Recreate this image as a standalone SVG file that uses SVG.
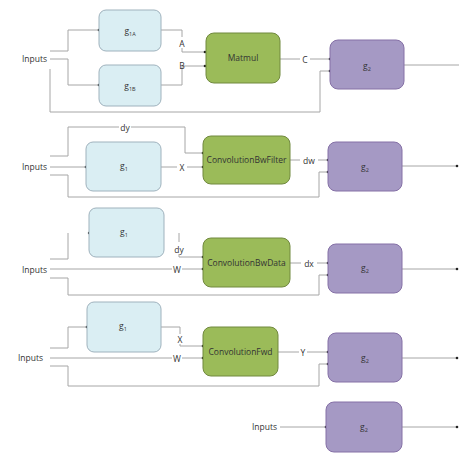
<svg xmlns="http://www.w3.org/2000/svg" width="474" height="460" viewBox="0 0 474 460">
<defs>
<marker id="dot" viewBox="0 0 4 4" refX="2" refY="2" markerWidth="4" markerHeight="4" markerUnits="userSpaceOnUse"><circle cx="2" cy="2" r="1.3" fill="#222"/></marker>
<style>
.w{fill:none;stroke:#a6a6a6;stroke-width:1}
.a{marker-end:url(#dot)}
.t{font-family:"Open Sans","Liberation Sans",sans-serif;font-size:8.5px;fill:#333}
.c{text-anchor:middle}
.lbl{font-family:"Open Sans","Liberation Sans",sans-serif;font-size:8.5px;fill:#333;text-anchor:middle;dominant-baseline:central}
.blue{fill:#daeef3;stroke:#9fb2bd;stroke-width:1}
.green{fill:#9bbb59;stroke:#71893f;stroke-width:1}
.purple{fill:#a599c4;stroke:#8570a6;stroke-width:1}
.bg{fill:#fff}
.sub{font-size:5.5px}
</style>
</defs>
<rect width="474" height="460" fill="#fff"/>
<g id="connectors">
<!-- section 1 -->
<path class="w a" d="M50,51 H68 V30 H99"/>
<path class="w a" d="M50,59 H68 V85 H99"/>
<path class="w a" d="M50,69 V112 H320 V71 H330"/>
<path class="w a" d="M161,30 H182 V37 M182,48 V52 H205"/>
<path class="w a" d="M161,85 H182 V66 H205"/>
<path class="w a" d="M280,59 H300 M310,59 H330"/>
<path class="w" d="M404,65 H459"/>
<!-- section 2 -->
<path class="w a" d="M50,156 H68 V127 H119 M131,127 H185 V153 H203"/>
<path class="w a" d="M50,167 H86"/>
<path class="w a" d="M161,167 H177 M187,167 H203"/>
<path class="w a" d="M50,175 H68 V197 H319 V172 H328"/>
<path class="w a" d="M290,160 H300 M318,160 H328"/>
<path class="w a" d="M402,166 H457"/>
<!-- section 3 -->
<path class="w" d="M50,259 H68 V233"/>
<circle cx="89" cy="233" r="1.2" fill="#222"/>
<path class="w" d="M179,233 V242"/>
<path class="w a" d="M179,254 V257 H203"/>
<path class="w a" d="M50,269 H172 M182,269 H203"/>
<path class="w a" d="M50,278 H68 V295 H319 V275 H328"/>
<path class="w a" d="M290,263 H301 M317,263 H328"/>
<path class="w a" d="M402,269 H457"/>
<!-- section 4 -->
<path class="w a" d="M50,348 H68 V327 H87"/>
<path class="w a" d="M161,327 H180 V334 M180,344 V346 H203"/>
<path class="w a" d="M50,358 H172 M182,358 H203"/>
<path class="w a" d="M50,366 H68 V386 H319 V364 H328"/>
<path class="w a" d="M278,352 H299 M307,352 H328"/>
<path class="w a" d="M402,358 H457"/>
<!-- section 5 -->
<path class="w a" d="M280,427 H326"/>
<path class="w a" d="M402,427 H457"/>
</g>
<g id="labels">
<text class="lbl" x="182" y="43">A</text>
<text class="lbl" x="182" y="65">B</text>
<text class="lbl" x="305" y="59">C</text>
<text class="lbl" x="125" y="127">dy</text>
<text class="lbl" x="182" y="167">X</text>
<text class="lbl" x="309" y="160">dw</text>
<text class="lbl" x="179" y="249">dy</text>
<text class="lbl" x="177" y="269">W</text>
<text class="lbl" x="309" y="263">dx</text>
<text class="lbl" x="180" y="339">X</text>
<text class="lbl" x="177" y="358">W</text>
<text class="lbl" x="303" y="352">Y</text>
</g>
<g id="inputs1"><text class="t" x="22" y="62">Inputs</text></g>
<g id="inputs2"><text class="t" x="22" y="170">Inputs</text></g>
<g id="inputs3"><text class="t" x="22" y="273">Inputs</text></g>
<g id="inputs4"><text class="t" x="18" y="361">Inputs</text></g>
<g id="inputs5"><text class="t" x="252" y="430">Inputs</text></g>
<g id="g1A"><rect class="blue" x="99" y="10" width="62" height="41" rx="7"/><text class="t c" x="130" y="34">g<tspan class="sub" dy="1.5">1A</tspan></text></g>
<g id="g1B"><rect class="blue" x="99" y="65" width="62" height="41" rx="7"/><text class="t c" x="130" y="89">g<tspan class="sub" dy="1.5">1B</tspan></text></g>
<g id="matmul"><rect class="green" x="206" y="33" width="74" height="50" rx="8"/><text class="t c" x="243" y="61">Matmul</text></g>
<g id="g2a"><rect class="purple" x="330" y="40" width="74" height="49" rx="8"/><text class="t c" x="367" y="69">g<tspan class="sub" dy="1.5">2</tspan></text></g>
<g id="g1_2"><rect class="blue" x="86" y="142" width="75" height="49" rx="7"/><text class="t c" x="124" y="169">g<tspan class="sub" dy="1.5">1</tspan></text></g>
<g id="convBwFilter"><rect class="green" x="203" y="136" width="87" height="48" rx="8"/><text class="t c" x="246.5" y="163">ConvolutionBwFilter</text></g>
<g id="g2b"><rect class="purple" x="328" y="142" width="74" height="49" rx="8"/><text class="t c" x="365" y="170">g<tspan class="sub" dy="1.5">2</tspan></text></g>
<g id="g1_3"><rect class="blue" x="89" y="208" width="75" height="49" rx="7"/><text class="t c" x="124" y="235">g<tspan class="sub" dy="1.5">1</tspan></text></g>
<g id="convBwData"><rect class="green" x="203" y="238" width="87" height="49" rx="8"/><text class="t c" x="246.5" y="266">ConvolutionBwData</text></g>
<g id="g2c"><rect class="purple" x="328" y="244" width="74" height="49" rx="8"/><text class="t c" x="365" y="271">g<tspan class="sub" dy="1.5">2</tspan></text></g>
<g id="g1_4"><rect class="blue" x="87" y="302" width="74" height="50" rx="7"/><text class="t c" x="123" y="329">g<tspan class="sub" dy="1.5">1</tspan></text></g>
<g id="convFwd"><rect class="green" x="203" y="327" width="75" height="49" rx="8"/><text class="t c" x="240.5" y="355">ConvolutionFwd</text></g>
<g id="g2d"><rect class="purple" x="328" y="333" width="74" height="49" rx="8"/><text class="t c" x="365" y="361">g<tspan class="sub" dy="1.5">2</tspan></text></g>
<g id="g2e"><rect class="purple" x="326" y="402" width="76" height="50" rx="8"/><text class="t c" x="364" y="430">g<tspan class="sub" dy="1.5">2</tspan></text></g>
</svg>
